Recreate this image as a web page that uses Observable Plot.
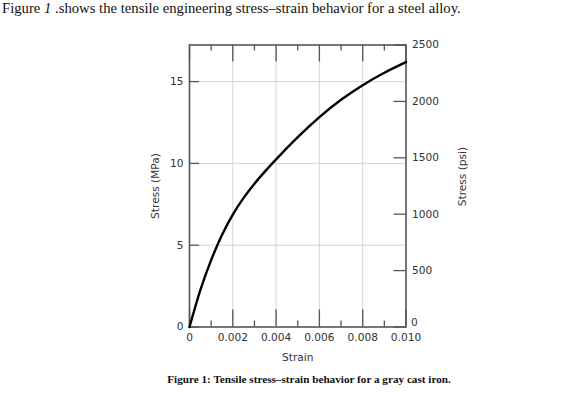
<!DOCTYPE html>
<html>
<head>
<meta charset="utf-8">
<script src="https://cdn.jsdelivr.net/npm/d3@7"></script>
<script src="https://cdn.jsdelivr.net/npm/@observablehq/plot@0.6"></script>
<style>
  body { margin: 0; background: #fff; }
  #wrap { position: relative; width: 562px; height: 397px; overflow: hidden; background: #fff; }
  #title { position: absolute; left: 2px; top: 0px; font: 14.7px "Liberation Serif", "Times New Roman", serif; line-height: 17px; color: #111; white-space: nowrap; }
  #chart { position: absolute; left: 0; top: 24px; }
  #caption { position: absolute; left: 309px; top: 373px; transform: translateX(-50%); font: bold 11.2px "Liberation Serif", "Times New Roman", serif; line-height: 13px; color: #111; white-space: nowrap; }
</style>
</head>
<body>
<div id="wrap">
  <div id="title">Figure <i>1</i> .shows the tensile engineering stress–strain behavior for a steel alloy.</div>
  <div id="chart"></div>
  <div id="caption">Figure 1: Tensile stress–strain behavior for a gray cast iron.</div>
</div>
<script>
// Data (strain, stress in MPa)
const strain    = [0, 0.0005, 0.001, 0.0015, 0.002, 0.0025, 0.003, 0.0035, 0.004, 0.005, 0.006, 0.007, 0.008, 0.009, 0.010];
const stressMPa = [0, 2.25,   4.09,  5.62,   6.87,  7.89,   8.76,  9.53,   10.25, 11.6,  12.83, 13.89, 14.78, 15.54, 16.19];
const strainTicks = [0, 0.002, 0.004, 0.006, 0.008, 0.010];
const strainMinor = [0.001, 0.003, 0.005, 0.007, 0.009];
const mpaTicks = [0, 5, 10, 15];
const psiTicks = [0, 500, 1000, 1500, 2000, 2500];
const PSI_PER_MPA = 145.038;

const curve = strain.map((s, i) => ({strain: s, mpa: stressMPa[i]}));

const W = 562, H = 344;
const mL = 189, mR = 156.5, mT = 20.5, mB = 41.5;
const FW = W - mL - mR, FH = H - mT - mB;
const frameColor = "#555";
const gridColor = "#d6d6d6";
const textColor = "#333";

const chart = Plot.plot({
  width: W, height: H,
  marginLeft: mL, marginRight: mR, marginTop: mT, marginBottom: mB,
  style: {fontFamily: "DejaVu Sans, sans-serif", fontSize: "10.6px", color: textColor, background: "white", overflow: "visible"},
  x: {domain: [0, 0.010]},
  y: {domain: [0, 2500 / PSI_PER_MPA]},
  marks: [
    // grid
    Plot.ruleX(strainTicks.slice(1, -1), {stroke: gridColor, strokeWidth: 1}),
    Plot.ruleY(mpaTicks.slice(1), {stroke: gridColor, strokeWidth: 1}),
    // strain ticks (bottom and top, inward)
    Plot.tickX(strainTicks, {x: d => d, insetTop: FH - 17, stroke: frameColor, strokeWidth: 1.3}),
    Plot.tickX(strainMinor, {x: d => d, insetTop: FH - 6, stroke: frameColor, strokeWidth: 1.3}),
    Plot.tickX(strainTicks, {x: d => d, insetBottom: FH - 17, stroke: frameColor, strokeWidth: 1.3}),
    Plot.tickX(strainMinor, {x: d => d, insetBottom: FH - 6, stroke: frameColor, strokeWidth: 1.3}),
    // MPa ticks (left, inward)
    Plot.tickY(mpaTicks, {y: d => d, insetRight: FW - 10, stroke: frameColor, strokeWidth: 1.3}),
    // psi ticks (right, inward)
    Plot.tickY(psiTicks, {y: d => d / PSI_PER_MPA, insetLeft: FW - 12, stroke: frameColor, strokeWidth: 1.3}),
    // frame
    Plot.frame({stroke: frameColor, strokeWidth: 1.6}),
    // curve
    Plot.line(curve, {x: "strain", y: "mpa", curve: "natural", stroke: "#000", strokeWidth: 2.4}),
    // axes (labels only)
    Plot.axisX(strainTicks, {tickSize: 0, tickPadding: 6, tickFormat: d => d === 0 ? "0" : d.toFixed(3), label: null}),
    Plot.axisY(mpaTicks, {anchor: "left", tickSize: 0, tickPadding: 6, label: null}),
    Plot.axisY(psiTicks.slice(1).map(p => p / PSI_PER_MPA), {anchor: "right", tickSize: 0, tickPadding: 6, tickFormat: d => String(Math.round(d * PSI_PER_MPA)), label: null}),
    Plot.axisY([psiTicks[0]], {anchor: "right", tickSize: 0, tickPadding: 5, dy: -4, tickFormat: d => String(d), label: null}),
    // axis titles
    Plot.text(["Strain"], {frameAnchor: "bottom", dy: 30.5, textAnchor: "middle", lineAnchor: "middle", fill: textColor}),
    Plot.text(["Stress (MPa)"], {frameAnchor: "left", dx: -34, dy: 0, rotate: -90, textAnchor: "middle", lineAnchor: "middle", fill: textColor}),
    Plot.text(["Stress (psi)"], {frameAnchor: "right", dx: 57, dy: -9.5, rotate: -90, textAnchor: "middle", lineAnchor: "middle", fill: textColor})
  ]
});
document.getElementById("chart").appendChild(chart);
</script>
</body>
</html>
